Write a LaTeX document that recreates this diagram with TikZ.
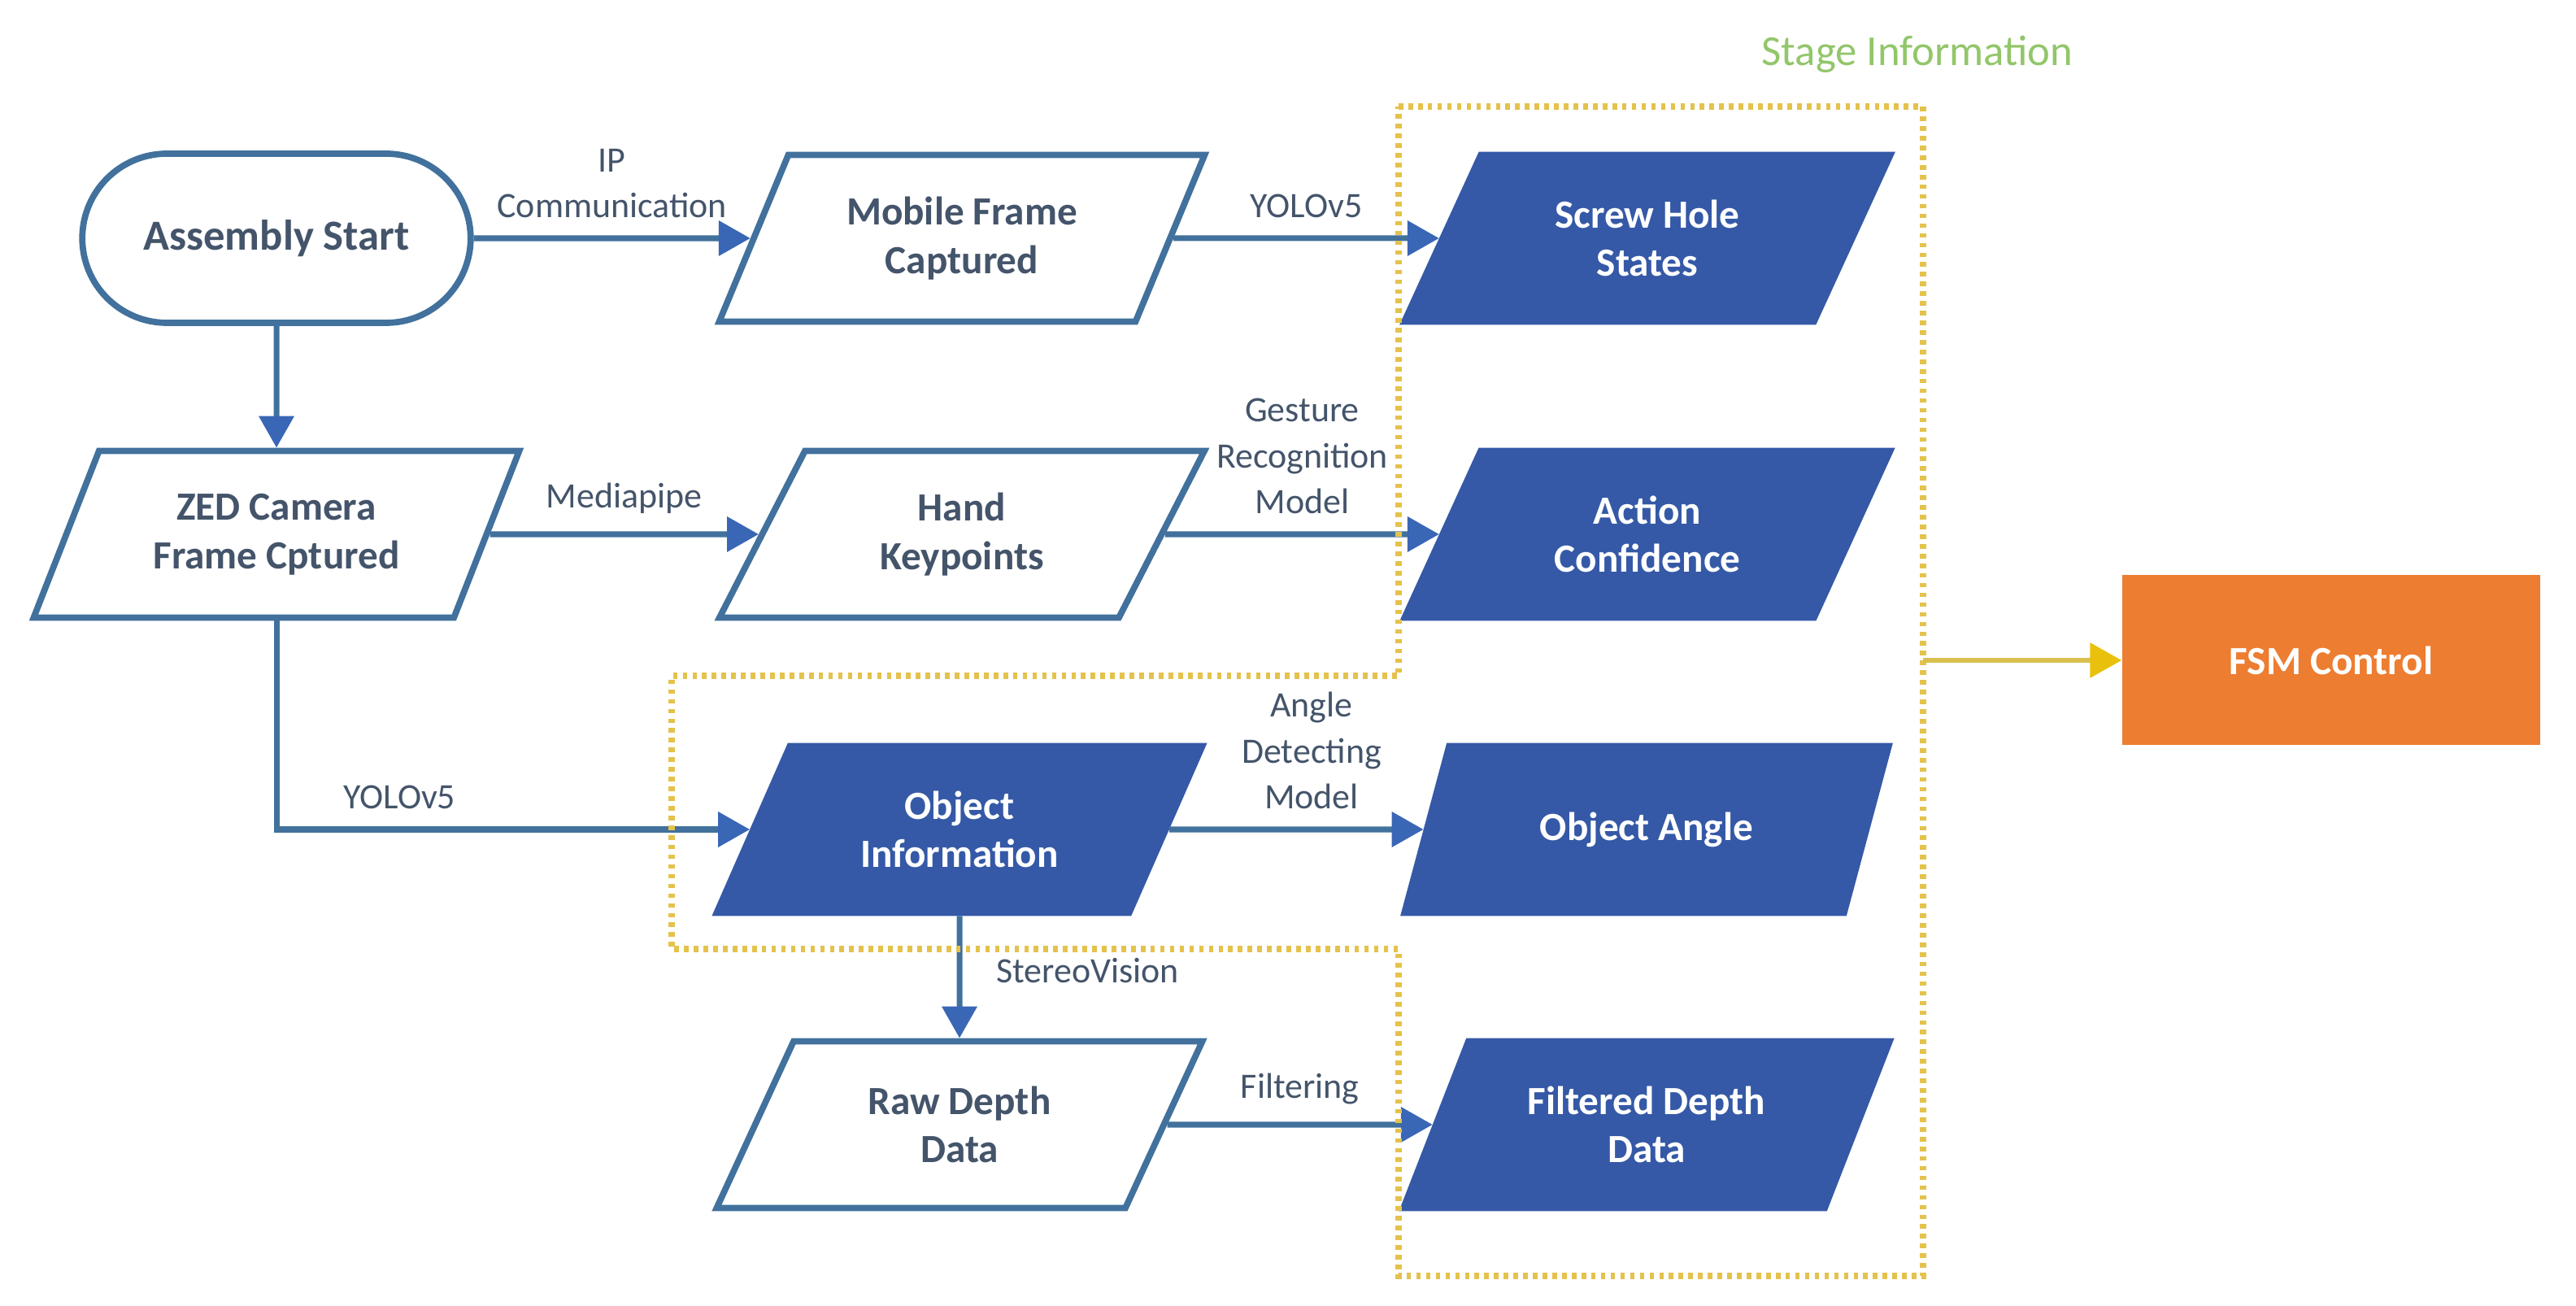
\documentclass[tikz,border=0pt]{standalone}
\usepackage{fontspec}
\setmainfont{Carlito}
\usetikzlibrary{shapes.geometric,shapes.misc,arrows.meta}
\definecolor{lineblue}{HTML}{41719C}
\definecolor{tipblue}{HTML}{3A66B6}
\definecolor{fillblue}{HTML}{3559A6}
\definecolor{textgray}{HTML}{44546A}
\definecolor{dotyellow}{HTML}{E4C24C}
\definecolor{stagegreen}{HTML}{92C66A}
\definecolor{fsmorange}{HTML}{ED7D31}
\definecolor{linkyellow}{HTML}{D9C04E}
\definecolor{linktip}{HTML}{E9C10C}

\begin{document}
\begin{tikzpicture}[
	io/.style={trapezium, trapezium left angle=64, trapezium right angle=116, trapezium stretches=true, minimum width=5.98cm, minimum height=2.05cm, line width=2.2pt, align=center, font=\bfseries\fontsize{14}{17}\selectfont},
	ionode/.style={io, draw=lineblue, fill=white, text=textgray},
	datanode/.style={io, draw=fillblue, fill=fillblue, text=white},
	flow/.style={-{Triangle[length=3.9mm,width=4.2mm,color=tipblue]}, line width=2pt, draw=lineblue},
	lbl/.style={text=textgray, align=center, font=\fontsize{12.5}{16}\selectfont}
	]
		\useasboundingbox (0,0) rectangle (31.68,-16.06);
		\node[rounded rectangle, draw=lineblue, line width=2.2pt, minimum width=5.01cm, minimum height=2.08cm, text=textgray, font=\bfseries\fontsize{15}{18}\selectfont] (start) at (3.40,-2.93) {Assembly Start};
		\node[ionode] (zed) at (3.40,-6.57) {ZED Camera\\Frame Cptured};
		\node[ionode] (mobile) at (11.83,-2.93) {Mobile Frame\\Captured};
		\node[ionode] (hand) at (11.83,-6.57) {Hand\\Keypoints};
		\node[datanode] (obj) at (11.80,-10.20) {Object\\Information};
		\node[ionode] (raw) at (11.80,-13.83) {Raw Depth\\Data};
		\node[datanode] (screw) at (20.26,-2.93) {Screw Hole\\States};
		\node[datanode] (action) at (20.26,-6.57) {Action\\Confidence};
		\node[datanode] (angle) at (20.25,-10.20) {Object Angle};
		\node[datanode] (filtered) at (20.25,-13.83) {Filtered Depth\\Data};
		\node[fill=fsmorange, minimum width=5.14cm, minimum height=2.09cm, text=white, font=\bfseries\fontsize{14}{17}\selectfont] (fsm) at (28.67,-8.12) {FSM Control};
		% arrows
		\draw[flow] (start) -- (zed);
		\draw[flow] (start) -- node[lbl, above=1mm]{IP\\Communication} (mobile);
		\draw[flow] (mobile) -- node[lbl, above=1mm]{YOLOv5} (screw);
		\draw[flow] (zed) -- node[lbl, above=1mm]{Mediapipe} (hand);
		\draw[flow] (hand) -- node[lbl, above=1mm]{Gesture\\Recognition\\Model} (action);
		\draw[flow] (zed.south) |- node[lbl, above=1mm, pos=0.63]{YOLOv5} (obj);
		\draw[flow] (obj) -- node[lbl, above=1mm, pos=0.56]{Angle\\Detecting\\Model} (angle);
		\draw[flow] (obj) -- node[lbl, right=3mm, pos=0.45]{StereoVision} (raw);
		\draw[flow] (raw) -- node[lbl, above=1mm]{Filtering} (filtered);
		% stage information
		\draw[dotyellow, line width=2.5pt, dash pattern=on 1.6pt off 1.8pt] (17.20,-1.31) -- (23.65,-1.31) -- (23.65,-15.69) -- (17.20,-15.69) -- (17.20,-11.67) -- (8.26,-11.67) -- (8.26,-8.31) -- (17.20,-8.31) -- cycle;
		\node[text=stagegreen, font=\fontsize{15}{18}\selectfont] (stagetext) at (23.58,-0.67) {Stage Information};
		\coordinate (stage) at (23.65,-8.12);
		\draw[-{Triangle[length=3.9mm,width=4.2mm,color=linktip]}, line width=1.8pt, linkyellow] (stage) -- (fsm);
	\end{tikzpicture}
\end{document}
